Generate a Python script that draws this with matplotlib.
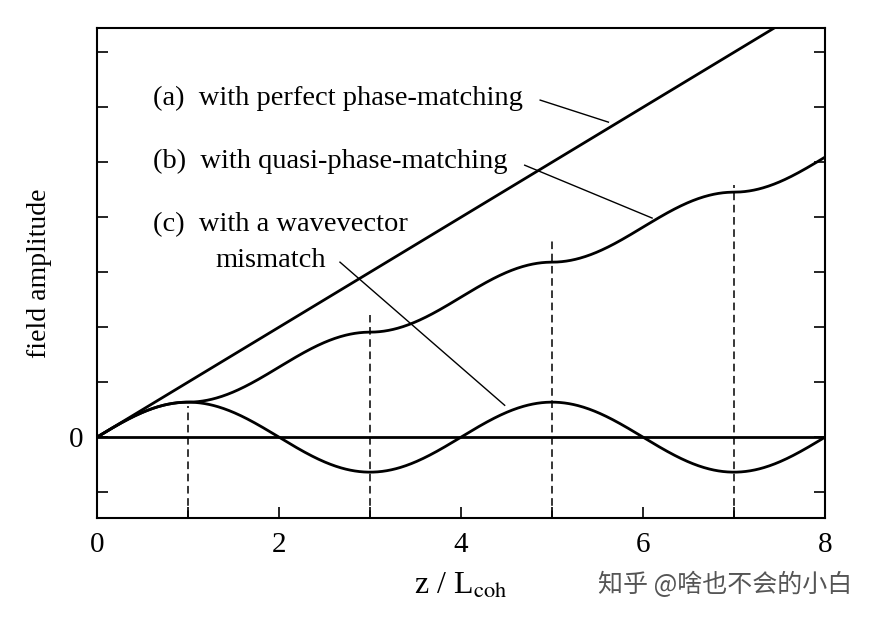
import numpy as np
import matplotlib
matplotlib.use("Agg")
import matplotlib.pyplot as plt

# data (units: z in coherence lengths, field in units of mismatch amplitude)
z_max = 8
mismatch_amp = 1.0
coh_peaks = [1, 3, 5, 7]
dash_tops = [0.9, 3.5, 5.7, 7.2]
x_ticks = [0, 2, 4, 6, 8]
y_minor = [-1.57, 1.57, 3.14, 4.71, 6.28, 7.85, 9.42, 10.99]

plt.rcParams['font.family'] = ['Liberation Serif', 'DejaVu Serif']
plt.rcParams['mathtext.fontset'] = 'stix'
fig = plt.figure(figsize=(8.79, 6.2), dpi=100)
ax = fig.add_axes([97/879, 1-518/620, (825-97)/879, (518-28)/620])

z = np.linspace(0, z_max, 800)
perfect = mismatch_amp * np.pi/2 * z
mism = mismatch_amp * np.sin(np.pi*z/2)
dz = z[1]-z[0]
c = np.abs(np.cos(np.pi*z/2))
qpm = mismatch_amp * np.pi/2 * np.concatenate([[0], np.cumsum((c[1:]+c[:-1])/2*dz)])

for y in (perfect, qpm, mism):
    ax.plot(z, y, color='black', lw=2)
ax.axhline(0, color='black', lw=2)
for p, t in zip(coh_peaks, dash_tops):
    ax.plot([p, p], [-2.31, t], color='black', lw=1.1, ls=(0, (5, 3)))

ax.set_xlim(0, 8)
ax.set_ylim(-2.31, 11.69)
ax.set_xticks(x_ticks)
ax.set_xticks(range(9), minor=True)
ax.set_yticks([0])
ax.set_yticklabels(['0'])
ax.set_yticks(y_minor, minor=True)
ax.tick_params(direction='in', which='both', top=False, right=True, labelsize=21, length=8, width=1.2, pad=10)
for s in ax.spines.values():
    s.set_linewidth(1.5)
ax.set_xlabel('z / L$_{\\mathrm{coh}}$', fontsize=23, labelpad=10)
ax.set_ylabel('field amplitude', fontsize=20, labelpad=12)

fs = 20.5
ax.text(0.62, 9.69, '(a)  with perfect phase-matching', fontsize=fs, va='center')
ax.plot([4.87, 5.62], [9.63, 9.0], color='black', lw=1)
ax.text(0.62, 7.89, '(b)  with quasi-phase-matching', fontsize=fs, va='center')
ax.plot([4.70, 6.10], [7.77, 6.26], color='black', lw=1)
ax.text(0.62, 6.06, '(c)  with a wavevector', fontsize=fs, va='center')
ax.text(1.30, 5.06, 'mismatch', fontsize=fs, va='center')
ax.plot([2.67, 4.48], [5.0, 0.91], color='black', lw=1)

fig.text(598/879, 1-585/620, '知乎 @啥也不会的小白', fontsize=18, color='#555555', va='center',
         family=['Noto Sans CJK SC', 'DejaVu Sans'])
fig.savefig('out.png', dpi=100)
